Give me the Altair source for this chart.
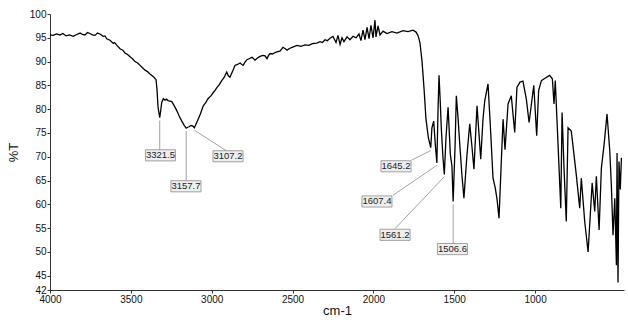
import altair as alt
import pandas as pd

# IR spectrum: wavenumber (cm-1) and transmittance (%T)
wavenumber = [
    4000, 3980, 3960, 3938, 3920, 3901, 3880, 3856, 3835, 3814, 3800, 3784, 3768, 3753, 3738,
    3722, 3706, 3691, 3672, 3660, 3649, 3629, 3608, 3600, 3586, 3567, 3550, 3536, 3520, 3505,
    3490, 3474, 3458, 3443, 3428, 3412, 3397, 3382, 3368, 3357, 3344, 3338, 3332, 3321.5, 3315,
    3309, 3299, 3289, 3280, 3270, 3258, 3247, 3233, 3216, 3202, 3185, 3170, 3157.7, 3148, 3140,
    3128, 3118, 3107.2, 3098, 3085, 3070, 3052, 3038, 3023, 3005, 2990, 2978, 2967, 2952, 2938,
    2924, 2907, 2897, 2887, 2870, 2856, 2840, 2825, 2806, 2794, 2782, 2763, 2750, 2732, 2715,
    2701, 2683, 2670, 2658, 2648, 2639, 2624, 2608, 2592, 2578, 2568, 2559, 2545, 2534, 2516,
    2495, 2472, 2448, 2423, 2400, 2373, 2350, 2330, 2315, 2299, 2285, 2268, 2250, 2231, 2219,
    2206, 2194, 2182, 2163, 2145, 2126, 2107, 2089, 2077, 2064, 2052, 2039, 2027, 2015, 2002,
    1990, 1984, 1971, 1959, 1940, 1916, 1885, 1854, 1817, 1786, 1755, 1736, 1724, 1712, 1699,
    1686, 1675, 1660, 1645.2, 1638, 1627, 1618, 1607.4, 1600, 1594, 1587, 1580, 1570, 1561.2, 1551,
    1538, 1524, 1514, 1506.6, 1495, 1487, 1476, 1466, 1452, 1440, 1422, 1404, 1390, 1378, 1359,
    1336, 1322, 1311, 1291, 1276, 1260, 1246, 1235, 1223, 1210, 1198, 1186, 1167, 1147, 1126,
    1112, 1093, 1075, 1054, 1037, 1008, 990, 978, 961, 939, 910, 893, 883, 875, 858,
    841, 833, 821, 807, 796, 776, 745, 724, 714, 693, 672, 647, 631, 621, 604,
    590, 573, 555, 538, 528, 518, 507, 497, 493, 487, 481, 473, 466,
]
transmittance = [
    95.6, 95.5, 95.8, 95.6, 95.9, 95.4, 95.6, 95.3, 95.7, 96.0, 95.7, 95.6, 96.1, 95.9, 95.6,
    95.5, 96.0, 95.8, 95.3, 95.4, 94.8, 94.5, 93.8, 94.0, 93.4, 92.7, 92.4, 91.8, 91.5, 91.0,
    90.6, 90.0, 89.7, 89.2, 88.7, 88.2, 87.9, 87.4, 87.0, 86.7, 86.2, 84.0, 80.5, 78.2, 79.8,
    81.4, 82.2, 81.9, 82.1, 81.8, 81.7, 81.6, 80.8, 79.7, 78.6, 77.5, 76.6, 76.0, 76.2, 76.3,
    76.6, 76.5, 76.1, 76.8, 77.8, 79.0, 80.7, 81.3, 82.2, 82.8, 83.5, 84.0, 84.6, 85.2, 86.0,
    86.6, 87.8, 87.0, 86.7, 88.0, 89.2, 89.4, 89.7, 89.2, 89.9, 90.4, 90.7, 90.9, 90.3, 90.8,
    91.1, 91.3, 91.2, 90.6, 91.3, 91.7, 91.6, 91.9, 92.1, 92.2, 92.6, 93.0, 92.7, 92.4, 92.8,
    93.1, 93.4, 93.2, 93.5, 93.4, 93.8, 93.9, 94.2, 94.0, 94.6, 94.4, 94.9, 95.3, 94.0, 95.5,
    93.6, 95.0, 94.2, 95.2, 94.6, 95.3, 95.0, 95.8, 94.4, 96.6, 94.6, 97.2, 94.8, 97.6, 95.0,
    98.7, 95.2, 97.5, 95.6, 96.4, 95.9, 96.3, 96.0, 96.5, 96.3, 96.6, 96.2, 95.5, 94.0, 90.0,
    84.0, 78.0, 74.0, 71.9, 76.1, 77.5, 73.0, 68.7, 80.0, 87.1, 82.0, 76.1, 70.0, 66.3, 74.0,
    80.4, 70.5, 68.0, 60.6, 72.0, 82.8, 78.0, 72.7, 66.0, 61.3, 70.0, 76.9, 72.0, 67.4, 80.7,
    69.5, 78.0, 81.8, 85.3, 76.1, 65.5, 63.4, 61.0, 57.1, 68.0, 77.9, 71.5, 81.1, 82.8, 75.1,
    84.6, 85.7, 85.9, 82.1, 77.2, 85.0, 74.4, 83.9, 86.0, 86.5, 87.1, 86.4, 81.1, 86.0, 72.6,
    59.2, 79.3, 67.6, 56.4, 76.1, 75.4, 66.2, 59.2, 65.5, 56.4, 50.0, 64.5, 58.5, 65.9, 54.6,
    67.6, 72.6, 79.0, 71.2, 63.8, 53.5, 61.3, 47.2, 70.8, 43.6, 69.0, 63.1, 69.8,
]

# Peak annotations
peak_labels = ["3321.5", "3157.7", "3107.2", "1645.2", "1607.4", "1561.2", "1506.6"]
peak_wn = [3321.5, 3157.7, 3107.2, 1645.2, 1607.4, 1561.2, 1506.6]
peak_T = [77.6, 75.4, 75.6, 71.3, 68.2, 65.8, 60.0]
label_wn = [3317, 3159, 2899, 1860, 1978, 1866, 1511]
label_T = [70.3, 63.8, 70.1, 68.0, 60.6, 53.6, 50.6]
leader_wn = [3321.5, 3157.7, 2907, 1763, 1879, 1866, 1506.6]
leader_T = [71.4, 64.9, 71.2, 69.3, 61.9, 54.9, 51.7]

x_ticks = [4000, 3500, 3000, 2500, 2000, 1500, 1000]
y_ticks = [42, 45, 50, 55, 60, 65, 70, 75, 80, 85, 90, 95, 100]

spec = pd.DataFrame({"wn": wavenumber, "T": transmittance})
ann = pd.DataFrame({
    "label": peak_labels, "pwn": peak_wn, "pT": peak_T,
    "lwn": label_wn, "lT": label_T, "ewn": leader_wn, "eT": leader_T,
})
half_w, half_h = 93, 1.17
ann["bx1"] = ann["lwn"] - half_w
ann["bx2"] = ann["lwn"] + half_w
ann["by1"] = ann["lT"] - half_h
ann["by2"] = ann["lT"] + half_h

FONT = "Liberation Sans"
xs = alt.Scale(domain=[450, 4000], reverse=True, nice=False, zero=False)
ys = alt.Scale(domain=[42, 100], nice=False, zero=False)


def xaxis():
    return alt.Axis(values=x_ticks, title="cm-1", format="d", tickSize=3, labelPadding=1,
                    titlePadding=0, titleFontSize=13, labelFontSize=10, grid=False,
                    labelFlush=False, labelOverlap=False)


def yaxis():
    return alt.Axis(values=y_ticks, title="%T", tickSize=3, labelPadding=1, titlePadding=9,
                    titleFontSize=13, labelFontSize=10, grid=False, labelOverlap=False)


line = alt.Chart(spec).mark_line(color="black", strokeWidth=1.3).encode(
    x=alt.X("wn:Q", scale=xs, axis=xaxis()),
    y=alt.Y("T:Q", scale=ys, axis=yaxis()),
)
leaders = alt.Chart(ann).mark_rule(color="#8c8c8c", strokeWidth=0.8).encode(
    x=alt.X("pwn:Q", scale=xs, axis=xaxis()), y=alt.Y("pT:Q", scale=ys, axis=yaxis()),
    x2="ewn:Q", y2="eT:Q",
)
boxes = alt.Chart(ann).mark_rect(fill="#eeeeee", stroke="#8c8c8c", strokeWidth=0.8).encode(
    x=alt.X("bx1:Q", scale=xs, axis=xaxis()), x2="bx2:Q",
    y=alt.Y("by1:Q", scale=ys, axis=yaxis()), y2="by2:Q",
)
texts = alt.Chart(ann).mark_text(font=FONT, fontSize=9.5, color="#222222").encode(
    x=alt.X("lwn:Q", scale=xs, axis=xaxis()), y=alt.Y("lT:Q", scale=ys, axis=yaxis()),
    text="label:N",
)

chart = alt.layer(line, leaders, boxes, texts).properties(
    width=574, height=276,
    autosize=alt.AutoSizeParams(type="none"),
    padding={"left": 50, "top": 14, "right": 4, "bottom": 32},
    background="white",
).configure_view(stroke=None).configure_axis(
    labelFont=FONT, titleFont=FONT, domainColor="#333333", tickColor="#333333",
    labelColor="#111111", titleColor="#111111", titleFontWeight="normal",
    labelOverlap=False,
)

chart.save("out.html", embed_options={"renderer": "svg", "actions": False})
